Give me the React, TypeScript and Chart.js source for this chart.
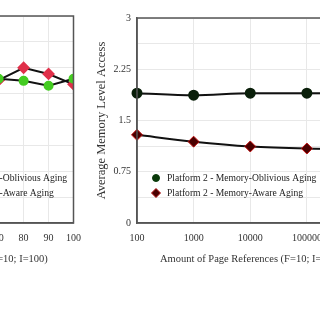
import React, { useEffect, useRef } from "react";
import { Chart, registerables } from "chart.js";

Chart.register(...registerables);

// Left panel (Platform 1), x = percentage values
const leftX = [70, 80, 90, 100];
const leftOblivious = [2.09, 2.06, 1.99, 2.09];
const leftAware = [2.07, 2.25, 2.16, 2.01];
const leftLegend = ["Platform 1 - Memory-Oblivious Aging", "Platform 1 - Memory-Aware Aging"];

// Right panel (Platform 2), x = amount of page references
const rightCategories = ["100", "1000", "10000", "100000", "1000000"];
const rightOblivious = [1.9, 1.87, 1.9, 1.9, 1.9];
const rightAware = [1.29, 1.19, 1.12, 1.09, 1.08];
const rightLegend = ["Platform 2 - Memory-Oblivious Aging", "Platform 2 - Memory-Aware Aging"];

const yLabels = ["0", "0.75", "1.5", "2.25", "3"];

const FONT = "'Liberation Serif', 'DejaVu Serif', serif";

type LegendItem = { label: string; shape: "circle" | "diamond"; fill: string; stroke: string };

function legendPlugin(items: LegendItem[], pos: { x?: number; rightEnd?: number; y: number }) {
  return {
    id: "manualLegend",
    afterDraw(chart: any) {
      const ctx = chart.ctx as CanvasRenderingContext2D;
      ctx.save();
      ctx.font = `9.6px ${FONT}`;
      ctx.textBaseline = "middle";
      ctx.fillStyle = "#222";
      let textX = pos.x ?? 0;
      if (pos.rightEnd !== undefined) {
        textX = pos.rightEnd - ctx.measureText(items[0].label).width;
      }
      items.forEach((it, i) => {
        const y = pos.y + i * 15;
        const mx = textX - 11;
        ctx.beginPath();
        if (it.shape === "circle") {
          ctx.arc(mx, y, 3.5, 0, Math.PI * 2);
        } else {
          ctx.moveTo(mx, y - 4.5);
          ctx.lineTo(mx + 4.5, y);
          ctx.lineTo(mx, y + 4.5);
          ctx.lineTo(mx - 4.5, y);
          ctx.closePath();
        }
        ctx.fillStyle = it.fill;
        ctx.fill();
        ctx.lineWidth = 1;
        ctx.strokeStyle = it.stroke;
        ctx.stroke();
        ctx.fillStyle = "#222";
        ctx.fillText(it.label, textX, y + 0.5);
      });
      ctx.restore();
    },
  };
}

const boxPlugin = {
  id: "boxBorder",
  afterDatasetsDraw(chart: any) {
    const { left, right, top, bottom } = chart.chartArea;
    const ctx = chart.ctx as CanvasRenderingContext2D;
    ctx.save();
    ctx.strokeStyle = "#555";
    ctx.lineWidth = 1.5;
    ctx.strokeRect(left, top, right - left, bottom - top);
    ctx.restore();
  },
};

const gridColor = "#e8e8e8";
const borderColor = "#555";
const tickFont = { family: FONT, size: 10 };

function yScale(showLabels: boolean, width: number, title?: string) {
  return {
    min: 0,
    max: 3,
    ticks: {
      display: showLabels,
      stepSize: 0.375,
      font: tickFont,
      color: "#333",
      padding: 6,
      callback: (v: number) => {
        const idx = Math.round(v / 0.75 * 1000) / 1000;
        return Number.isInteger(idx) ? yLabels[idx] : "";
      },
    },
    grid: { color: gridColor, drawTicks: false },
    border: { color: borderColor, width: 1.5 },
    title: title
      ? { display: true, text: title, font: { family: FONT, size: 12.5 }, color: "#333", padding: { top: 4, bottom: 0 } }
      : { display: false },
    afterFit: (s: any) => {
      s.width = width;
    },
  };
}

export default function App() {
  const leftRef = useRef<HTMLCanvasElement>(null);
  const rightRef = useRef<HTMLCanvasElement>(null);

  useEffect(() => {
    const left = new Chart(leftRef.current!, {
      type: "line",
      data: {
        datasets: [
          {
            label: leftLegend[0],
            data: leftX.map((x, i) => ({ x, y: leftOblivious[i] })),
            borderColor: "#111",
            borderWidth: 2,
            pointStyle: "circle",
            pointRadius: 4,
            pointBackgroundColor: "#44cc22",
            pointBorderColor: "#44cc22",
          },
          {
            label: leftLegend[1],
            data: leftX.map((x, i) => ({ x, y: leftAware[i] })),
            borderColor: "#111",
            borderWidth: 2,
            pointStyle: "rectRot",
            pointRadius: 5,
            pointBackgroundColor: "#e0304a",
            pointBorderColor: "#e0304a",
          },
        ],
      },
      options: {
        responsive: false,
        animation: false,
        layout: { padding: { top: 16, right: 7, bottom: 52, left: 0 } },
        plugins: { legend: { display: false }, tooltip: { enabled: false } },
        scales: {
          x: {
            type: "linear",
            min: 10,
            max: 100,
            ticks: { stepSize: 10, font: tickFont, color: "#333", padding: 9 },
            grid: { color: gridColor, drawTicks: false },
            border: { color: borderColor, width: 1.5 },
            title: {
              display: true,
              text: "Memory Threshold (in %) (F=10; I=100)",
              font: { family: FONT, size: 10.5 },
              color: "#333",
              padding: { top: 4, bottom: 2 },
            },
            afterFit: (s: any) => {
              s.height = 45;
            },
          },
          y: yScale(false, 39) as any,
        },
      },
      plugins: [
        boxPlugin,
        legendPlugin(
          [
            { label: leftLegend[0], shape: "circle", fill: "#44cc22", stroke: "#44cc22" },
            { label: leftLegend[1], shape: "diamond", fill: "#e0304a", stroke: "#e0304a" },
          ],
          { rightEnd: 257, y: 178 }
        ),
      ],
    } as any);

    const right = new Chart(rightRef.current!, {
      type: "line",
      data: {
        labels: rightCategories,
        datasets: [
          {
            label: rightLegend[0],
            data: rightOblivious,
            borderColor: "#111",
            borderWidth: 2,
            pointStyle: "circle",
            pointRadius: 4.5,
            pointBackgroundColor: "#0a1f0a",
            pointBorderColor: "#0a1f0a",
            cubicInterpolationMode: "monotone",
          },
          {
            label: rightLegend[1],
            data: rightAware,
            borderColor: "#111",
            borderWidth: 2,
            pointStyle: "rectRot",
            pointRadius: 5.5,
            pointBackgroundColor: "#4a0000",
            pointBorderColor: "#c01010",
            pointBorderWidth: 1,
            cubicInterpolationMode: "monotone",
          },
        ],
      },
      options: {
        responsive: false,
        animation: false,
        layout: { padding: { top: 18, right: 25, bottom: 52, left: 0 } },
        plugins: { legend: { display: false }, tooltip: { enabled: false } },
        scales: {
          x: {
            type: "category",
            offset: false,
            ticks: { font: tickFont, color: "#333", padding: 9, maxRotation: 0 },
            grid: { color: gridColor, drawTicks: false, offset: false },
            border: { color: borderColor, width: 1.5 },
            title: {
              display: true,
              text: "Amount of Page References (F=10; I=100)",
              font: { family: FONT, size: 10.5 },
              color: "#333",
              padding: { top: 4, bottom: 2 },
            },
            afterFit: (s: any) => {
              s.height = 45;
            },
          },
          y: yScale(true, 47, "Average Memory Level Access") as any,
        },
      },
      plugins: [
        boxPlugin,
        legendPlugin(
          [
            { label: rightLegend[0], shape: "circle", fill: "#0a3a0a", stroke: "#0a3a0a" },
            { label: rightLegend[1], shape: "diamond", fill: "#4a0000", stroke: "#b01010" },
          ],
          { x: 77, y: 178 }
        ),
      ],
    } as any);

    return () => {
      left.destroy();
      right.destroy();
    };
  }, []);

  return (
    <div
      style={{
        position: "fixed",
        left: 0,
        top: 0,
        width: 320,
        height: 320,
        overflow: "hidden",
        background: "#fff",
      }}
    >
      <canvas
        ref={leftRef}
        width={280}
        height={320}
        style={{ position: "absolute", left: -190, top: 0, width: 280, height: 320 }}
      />
      <canvas
        ref={rightRef}
        width={300}
        height={320}
        style={{ position: "absolute", left: 90, top: 0, width: 300, height: 320 }}
      />
    </div>
  );
}
